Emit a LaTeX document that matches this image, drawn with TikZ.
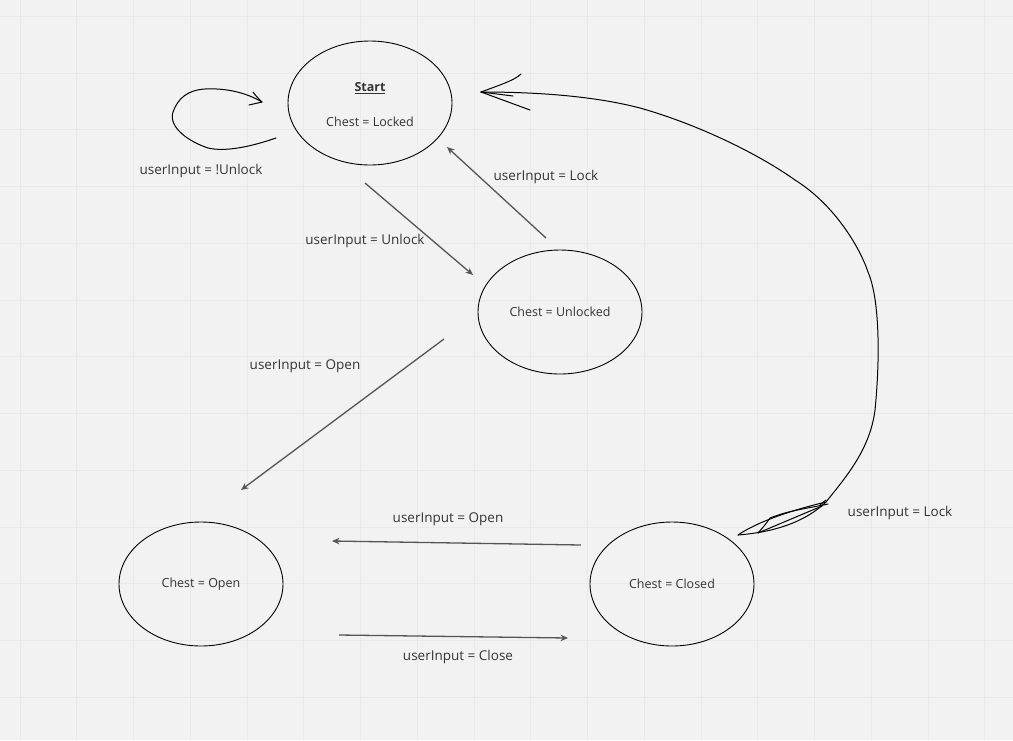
\documentclass[tikz,border=0pt]{standalone}
\usepackage{fontspec}
\setmainfont{Open Sans}
\usetikzlibrary{shapes.geometric,arrows.meta}
\definecolor{bg}{HTML}{F2F2F2}
\definecolor{gridc}{HTML}{E9E9E9}
\definecolor{arrowc}{HTML}{555555}
\definecolor{labelc}{HTML}{333333}
\tikzset{
  state/.style={draw=black, line width=0.9pt, ellipse, minimum width=164pt, minimum height=124pt, inner sep=0pt, align=center, font=\fontsize{12.5}{15}\selectfont, text=labelc},
  trans/.style={draw=arrowc, line width=1.3pt, -{Stealth[length=7.5pt,width=6.5pt]}},
  lbl/.style={font=\fontsize{13.5}{16}\selectfont, text=labelc, inner sep=0pt},
  sketch/.style={draw=black, line width=1pt, line cap=round, line join=round}
}
\begin{document}
\begin{tikzpicture}[x=1pt,y=-1pt]
\fill[bg] (0,0) rectangle (1013,740);
\useasboundingbox (0,0) rectangle (1013,740);
\foreach \i in {0,...,17} {\draw[gridc, line width=1pt] ({20+56.75*\i},0) -- ({20+56.75*\i},740);}
\foreach \j in {0,...,12} {\draw[gridc, line width=1pt] (0,{16.25+56.75*\j}) -- (1013,{16.25+56.75*\j});}

% states
\node[state] (start) at (370,103) {};
\node[font=\fontsize{12.5}{15}\selectfont, text=labelc, inner sep=0pt] (starttitle) at (370,88) {\underline{\textbf{Start}}};
\node[font=\fontsize{12.5}{15}\selectfont, text=labelc, inner sep=0pt] (starttext) at (370,122) {Chest = Locked};
\node[state] (unlocked) at (560,312) {Chest = Unlocked};
\node[state] (open) at (201,584) {Chest = Open};
\node[state] (closed) at (672,584) {Chest = Closed};

% connector end points
\coordinate (u1) at (365,183); \coordinate (u2) at (473,275);
\coordinate (l1) at (546,238); \coordinate (l2) at (447,147);
\coordinate (o1) at (444,339); \coordinate (o2) at (241,490);
\coordinate (co1) at (581,545); \coordinate (co2) at (332,541);
\coordinate (c1) at (339,635); \coordinate (c2) at (568,638);

\draw[trans] (u1) -- (u2);
\draw[trans] (l1) -- (l2);
\draw[trans] (o1) -- (o2);
\draw[trans] (co1) -- (co2);
\draw[trans] (c1) -- (c2);

% labels
\node[lbl] (lbl1) at (201,171) {userInput = !Unlock};
\node[lbl] (lbl2) at (546,177) {userInput = Lock};
\node[lbl] (lbl3) at (365,241) {userInput = Unlock};
\node[lbl] (lbl4) at (305,366) {userInput = Open};
\node[lbl] (lbl5) at (448,519) {userInput = Open};
\node[lbl] (lbl6) at (458,657) {userInput = Close};
\node[lbl] (lbl7) at (900,513) {userInput = Lock};

% hand-drawn self loop
\coordinate (sl0) at (276,138);
\coordinate (sltip) at (262,102);
\draw[sketch] (sl0) .. controls (250,147) and (225,152) .. (208,148)
  .. controls (190,142) and (168,128) .. (173,112)
  .. controls (178,98) and (188,90) .. (205,89)
  .. controls (225,88) and (245,92) .. (sltip);
\draw[sketch] (253,92) .. controls (256,96) .. (sltip) -- (249,105);

% hand-drawn long curve to Start
\coordinate (bt) at (481,92);
\coordinate (bb) at (826,502);
\draw[sketch] (bb) .. controls (845,478) and (870,450) .. (875,410)
  .. controls (880,360) and (880,300) .. (868,272)
  .. controls (860,248) and (835,205) .. (795,180)
  .. controls (760,155) and (700,125) .. (640,108)
  .. controls (590,95) and (530,92) .. (bt);
\draw[sketch] (bt) .. controls (500,85) and (515,80) .. (521,74);
\draw[sketch] (bt) -- (530,110);
\draw[sketch] (bt) -- (513,96);
% messy head near Closed
\draw[sketch] (bb) .. controls (800,508) and (760,520) .. (738,535);
\draw[sketch] (738,535) .. controls (775,532) and (805,522) .. (bb);
\draw[sketch] (758,533) .. controls (765,525) .. (770,518) .. controls (790,510) and (810,508) .. (828,504);
\draw[sketch] (758,533) -- (822,506);
\draw[sketch] (820,505) -- (826,500);
\end{tikzpicture}
\end{document}
